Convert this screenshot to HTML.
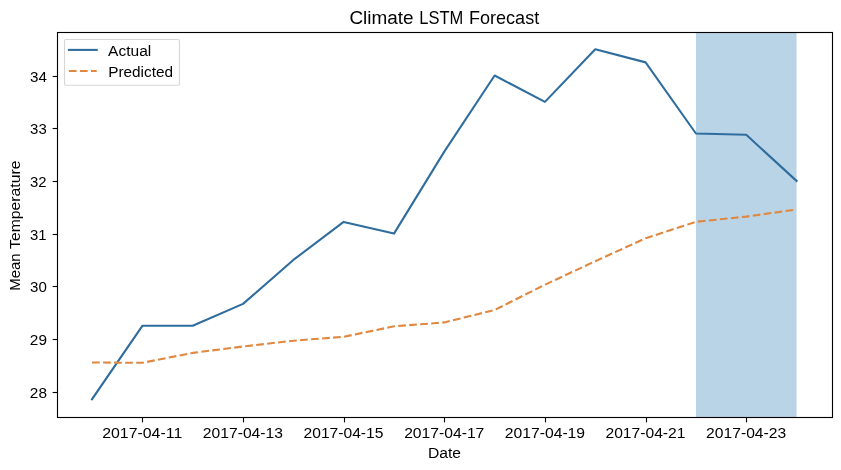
<!DOCTYPE html>
<html><head><meta charset="utf-8"><style>
html,body{margin:0;padding:0;background:#fff;width:841px;height:470px;overflow:hidden}
svg{display:block;will-change:transform}
text{font-family:"Liberation Sans",sans-serif;fill:#000}
</style></head><body>
<svg width="841" height="470" viewBox="0 0 841 470">
<rect width="841" height="470" fill="#fff"/>
<rect x="695.92" y="32.0" width="100.65" height="385.0" fill="#b9d4e7"/>
<polyline points="92.03,399.21 142.35,325.82 192.68,325.82 243.00,303.86 293.33,259.95 343.65,221.90 393.98,233.61 444.30,151.65 494.62,75.54 544.95,101.88 595.27,49.19 645.60,62.37 695.92,133.50 746.25,134.81 796.57,180.92" fill="none" stroke="#2f6d9e" stroke-width="2.08" stroke-linejoin="round" stroke-linecap="square"/>
<polyline points="92.03,362.50 142.35,362.80 192.68,352.90 243.00,346.50 293.33,340.70 343.65,336.80 393.98,326.30 444.30,322.40 494.62,310.00 544.95,284.70 595.27,261.20 645.60,238.30 695.92,221.80 746.25,216.60 796.57,209.50" fill="none" stroke="#e08840" stroke-width="2.08" stroke-linejoin="round" stroke-dasharray="7.71 3.33"/>
<rect x="57.5" y="32.5" width="775.0" height="385.0" fill="none" stroke="#000" stroke-width="1.11"/>
<line x1="52.64" y1="392.50" x2="57.5" y2="392.50" stroke="#000" stroke-width="1.11"/>
<text x="29.86" y="397.90" font-size="14.72" textLength="17.11" lengthAdjust="spacingAndGlyphs">28</text>
<line x1="52.64" y1="339.50" x2="57.5" y2="339.50" stroke="#000" stroke-width="1.11"/>
<text x="29.86" y="344.90" font-size="14.72" textLength="17.11" lengthAdjust="spacingAndGlyphs">29</text>
<line x1="52.64" y1="286.50" x2="57.5" y2="286.50" stroke="#000" stroke-width="1.11"/>
<text x="30.08" y="291.90" font-size="14.72" textLength="16.78" lengthAdjust="spacingAndGlyphs">30</text>
<line x1="52.64" y1="234.50" x2="57.5" y2="234.50" stroke="#000" stroke-width="1.11"/>
<text x="30.08" y="239.90" font-size="14.72" textLength="16.57" lengthAdjust="spacingAndGlyphs">31</text>
<line x1="52.64" y1="181.50" x2="57.5" y2="181.50" stroke="#000" stroke-width="1.11"/>
<text x="30.08" y="186.90" font-size="14.72" textLength="16.57" lengthAdjust="spacingAndGlyphs">32</text>
<line x1="52.64" y1="128.50" x2="57.5" y2="128.50" stroke="#000" stroke-width="1.11"/>
<text x="30.08" y="133.90" font-size="14.72" textLength="16.67" lengthAdjust="spacingAndGlyphs">33</text>
<line x1="52.64" y1="76.50" x2="57.5" y2="76.50" stroke="#000" stroke-width="1.11"/>
<text x="30.07" y="81.90" font-size="14.72" textLength="16.88" lengthAdjust="spacingAndGlyphs">34</text>
<line x1="142.50" y1="417.5" x2="142.50" y2="422.36" stroke="#000" stroke-width="1.11"/>
<text x="102.21" y="438.00" font-size="14.72" textLength="80.01" lengthAdjust="spacingAndGlyphs">2017-04-11</text>
<line x1="243.50" y1="417.5" x2="243.50" y2="422.36" stroke="#000" stroke-width="1.11"/>
<text x="202.87" y="438.00" font-size="14.72" textLength="80.08" lengthAdjust="spacingAndGlyphs">2017-04-13</text>
<line x1="344.50" y1="417.5" x2="344.50" y2="422.36" stroke="#000" stroke-width="1.11"/>
<text x="303.52" y="438.00" font-size="14.72" textLength="79.87" lengthAdjust="spacingAndGlyphs">2017-04-15</text>
<line x1="444.50" y1="417.5" x2="444.50" y2="422.36" stroke="#000" stroke-width="1.11"/>
<text x="404.16" y="438.00" font-size="14.72" textLength="80.19" lengthAdjust="spacingAndGlyphs">2017-04-17</text>
<line x1="545.50" y1="417.5" x2="545.50" y2="422.36" stroke="#000" stroke-width="1.11"/>
<text x="504.81" y="438.00" font-size="14.72" textLength="80.28" lengthAdjust="spacingAndGlyphs">2017-04-19</text>
<line x1="646.50" y1="417.5" x2="646.50" y2="422.36" stroke="#000" stroke-width="1.11"/>
<text x="605.46" y="438.00" font-size="14.72" textLength="79.98" lengthAdjust="spacingAndGlyphs">2017-04-21</text>
<line x1="746.50" y1="417.5" x2="746.50" y2="422.36" stroke="#000" stroke-width="1.11"/>
<text x="706.11" y="438.00" font-size="14.72" textLength="80.08" lengthAdjust="spacingAndGlyphs">2017-04-23</text>
<text x="428.01" y="457.80" font-size="14.72" textLength="33.07" lengthAdjust="spacingAndGlyphs">Date</text>
<text transform="translate(20.00,290.97) rotate(-90)" x="0.18" y="0" font-size="14.72" textLength="37.51" lengthAdjust="spacingAndGlyphs">Mean</text>
<text transform="translate(20.00,248.68) rotate(-90)" x="-0.32" y="0" font-size="14.72" textLength="88.39" lengthAdjust="spacingAndGlyphs">Temperature</text>
<text x="349.41" y="23.80" font-size="17.66" textLength="64.21" lengthAdjust="spacingAndGlyphs">Climate</text>
<text x="419.24" y="23.80" font-size="17.66" textLength="44.01" lengthAdjust="spacingAndGlyphs">LSTM</text>
<text x="468.93" y="23.80" font-size="17.66" textLength="70.29" lengthAdjust="spacingAndGlyphs">Forecast</text>
<rect x="64.5" y="39.5" width="115" height="45.7" rx="1.8" ry="1.8" fill="#fff" fill-opacity="0.8" stroke="#cccccc" stroke-opacity="0.8" stroke-width="1.11"/>
<line x1="68.9" y1="49.9" x2="96.7" y2="49.9" stroke="#2f6d9e" stroke-width="2.08" stroke-linecap="square"/>
<line x1="68.9" y1="71.0" x2="96.7" y2="71.0" stroke="#e08840" stroke-width="2.08" stroke-dasharray="7.71 3.33"/>
<text x="108.10" y="55.80" font-size="14.72" textLength="43.21" lengthAdjust="spacingAndGlyphs">Actual</text>
<text x="108.15" y="76.60" font-size="14.72" textLength="64.90" lengthAdjust="spacingAndGlyphs">Predicted</text>
</svg>
</body></html>
